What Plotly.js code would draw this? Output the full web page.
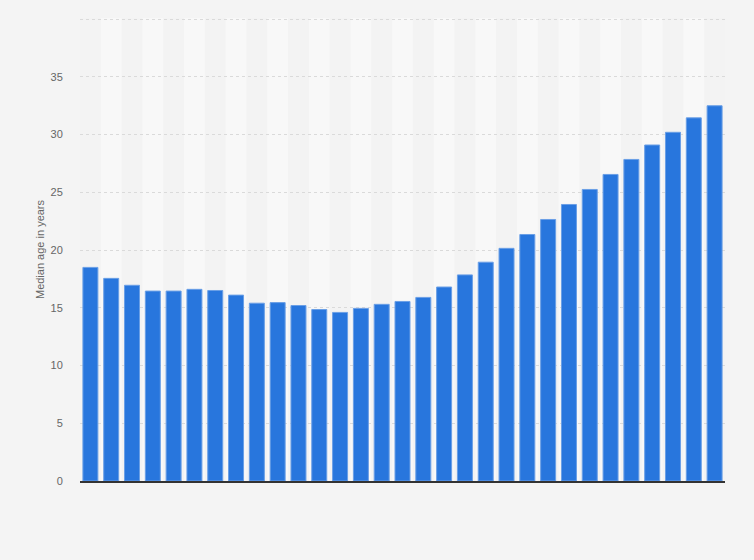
<!DOCTYPE html>
<html>
<head>
<meta charset="utf-8">
<script src="https://cdn.plot.ly/plotly-3.0.1.min.js"></script>
<style>html,body{margin:0;padding:0;background:#f4f4f4;}#chart{width:754px;height:560px;}</style>
</head>
<body>
<div id="chart"></div>
<script>
// 31 periods, no category labels shown in the reference
const categories = Array.from({length: 31}, (_, i) => 'P' + (i + 1));
const medianAge = [18.5, 17.55, 16.95, 16.45, 16.45, 16.6, 16.5, 16.1, 15.4, 15.45, 15.2, 14.85, 14.6, 14.95, 15.3, 15.55, 15.9, 16.8, 17.85, 18.95, 20.15, 21.35, 22.65, 23.95, 25.25, 26.55, 27.85, 29.1, 30.2, 31.45, 32.5];
const yTickVals = [0, 5, 10, 15, 20, 25, 30, 35, 40];
const yTickText = ['0', '5', '10', '15', '20', '25', '30', '35', ''];

const stripes = [];
categories.forEach((c, i) => {
  if (i % 2 === 1) {
    stripes.push({type: 'rect', xref: 'x', yref: 'paper', x0: i - 0.5, x1: i + 0.5, y0: 0, y1: 1,
      fillcolor: '#f8f8f8', line: {width: 0}, layer: 'below'});
  }
});

const trace = {
  type: 'bar',
  x: categories.map((c, i) => i),
  y: medianAge,
  marker: {color: '#2876dd', line: {color: '#6a9fe6', width: 1}},
  width: 0.72,
  hoverinfo: 'y'
};

const layout = {
  width: 754, height: 560,
  paper_bgcolor: '#f4f4f4',
  plot_bgcolor: '#f3f3f3',
  margin: {l: 80, r: 29, t: 18, b: 79},
  showlegend: false,
  font: {family: 'Liberation Sans, Arial, sans-serif', color: '#666', size: 11},
  xaxis: {
    range: [-0.5, 30.5],
    showticklabels: false,
    showgrid: false,
    zeroline: false,
    showline: true,
    linecolor: '#333',
    linewidth: 1.5,
    ticks: ''
  },
  yaxis: {
    range: [0, 40.1],
    tickvals: yTickVals,
    ticktext: yTickText,
    showgrid: true,
    gridcolor: '#dadada',
    griddash: 'dot',
    gridwidth: 1,
    zeroline: false,
    showline: false,
    ticks: 'outside',
    ticklen: 14,
    tickcolor: 'rgba(0,0,0,0)',
    tickfont: {size: 11, color: '#666'},
    title: {text: 'Median age in years', font: {size: 11, color: '#666'}, standoff: 3}
  },
  shapes: stripes
};

Plotly.newPlot('chart', [trace], layout, {displayModeBar: false, staticPlot: true});
</script>
</body>
</html>
